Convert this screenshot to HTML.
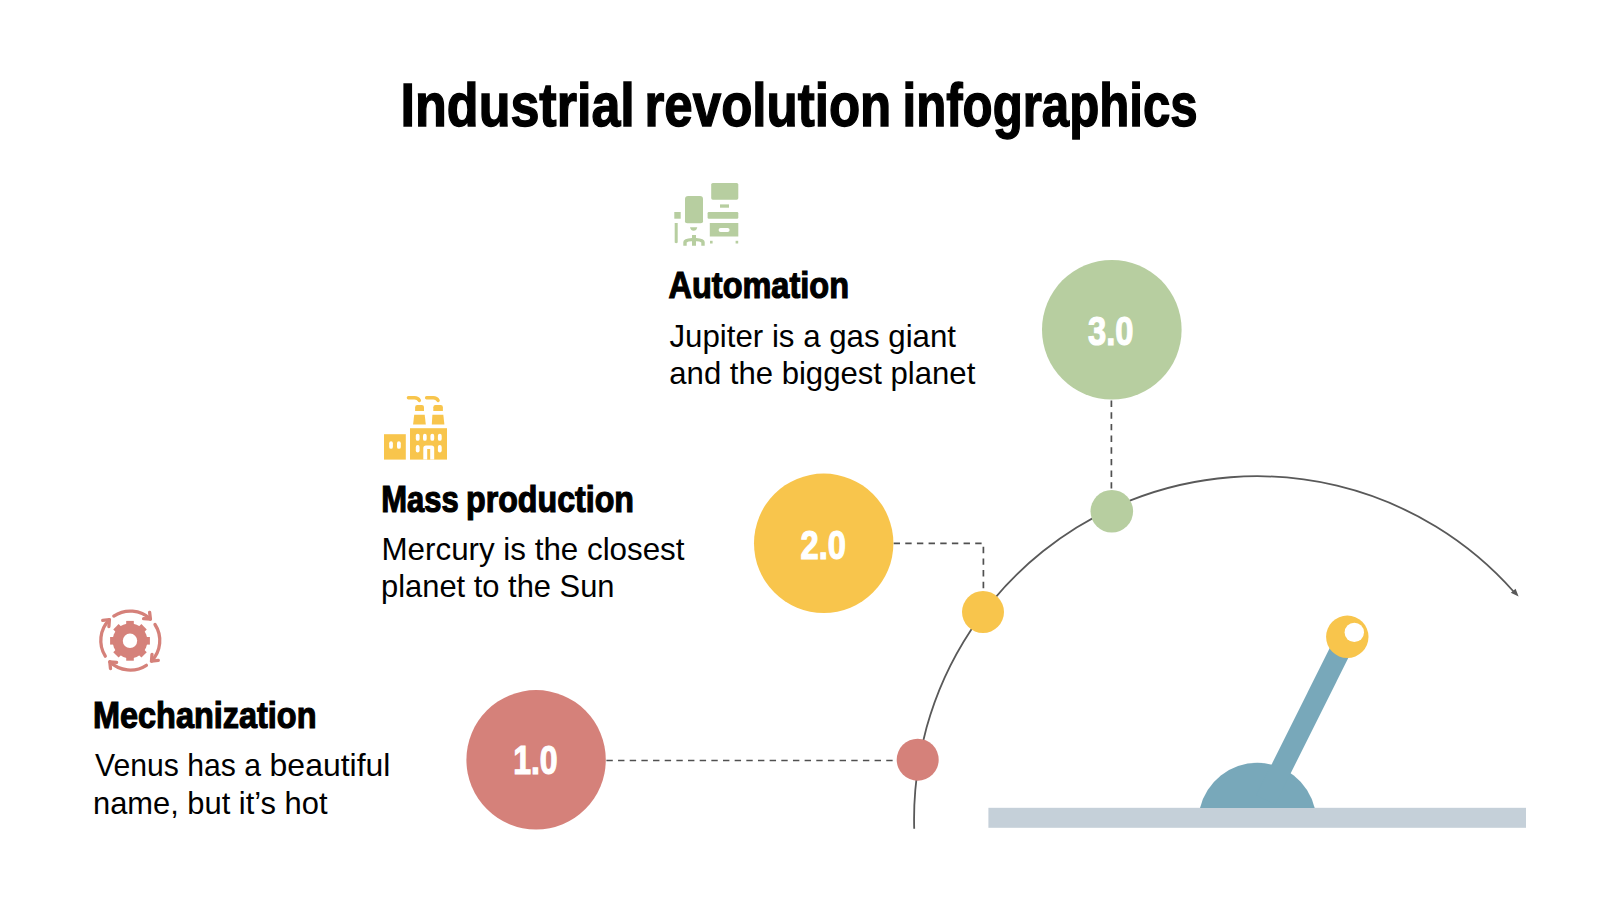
<!DOCTYPE html>
<html><head><meta charset="utf-8">
<style>
html,body{margin:0;padding:0;background:#fff;}
body{width:1600px;height:900px;overflow:hidden;position:relative;}
svg{position:absolute;left:0;top:0;display:block;}
text{font-family:"Liberation Sans",sans-serif;}
.h{font-weight:bold;fill:#000;}
.b{fill:#000;}
.n{font-weight:bold;fill:#fff;}
</style></head><body>
<svg width="1600" height="900" viewBox="0 0 1600 900">
<!-- Title -->
<g class="h" font-size="61" stroke="#000" stroke-width="1.4">
<text x="400.6" y="126.4" textLength="234.2" lengthAdjust="spacingAndGlyphs">Industrial</text>
<text x="644.5" y="126.4" textLength="246.8" lengthAdjust="spacingAndGlyphs">revolution</text>
<text x="902.5" y="126.4" textLength="295.2" lengthAdjust="spacingAndGlyphs">infographics</text>
</g>

<!-- Headings -->
<text class="h" x="668.5" y="298.2" font-size="37.5" textLength="180.5" stroke="#000" stroke-width="1.2" lengthAdjust="spacingAndGlyphs">Automation</text>
<text class="h" x="381.3" y="512" font-size="37.5" textLength="77.5" lengthAdjust="spacingAndGlyphs" stroke="#000" stroke-width="1.2">Mass</text>
<text class="h" x="466" y="512" font-size="37.5" textLength="168" lengthAdjust="spacingAndGlyphs" stroke="#000" stroke-width="1.2">production</text>
<text class="h" x="93" y="727.7" font-size="37.5" textLength="223.5" stroke="#000" stroke-width="1.2" lengthAdjust="spacingAndGlyphs">Mechanization</text>

<!-- Body -->
<g class="b" font-size="30.7">
<text x="669.5" y="346.5" textLength="286.5" lengthAdjust="spacingAndGlyphs">Jupiter is a gas giant</text>
<text x="669.3" y="383.6" textLength="306" lengthAdjust="spacingAndGlyphs">and the biggest planet</text>
<text x="381.5" y="559.8" textLength="303" lengthAdjust="spacingAndGlyphs">Mercury is the closest</text>
<text x="381" y="596.8" textLength="233.5" lengthAdjust="spacingAndGlyphs">planet to the Sun</text>
<text x="95" y="776" textLength="166" lengthAdjust="spacingAndGlyphs">Venus has a</text>
<text x="269.6" y="776" textLength="120.8" lengthAdjust="spacingAndGlyphs">beautiful</text>
<text x="93" y="813.7" textLength="234.5" lengthAdjust="spacingAndGlyphs">name, but it’s hot</text>
</g>

<!-- Big arc -->
<path d="M914.2 828.7 A343 343 0 0 1 1514 592" fill="none" stroke="#595959" stroke-width="1.8"/>
<polygon points="1518.6,596.6 1510.8,592.8 1515.6,588.8" fill="#595959"/>

<!-- Dashed connectors -->
<g stroke="#505050" stroke-width="1.7" stroke-dasharray="6.4 5.26" fill="none">
<path d="M606.4 760.5 H897"/>
<path d="M893.6 543.3 H984"/>
<path d="M983.4 546.8 V592"/>
<path d="M1111.4 400.6 V491"/>
</g>

<!-- Big circles -->
<circle cx="1111.8" cy="329.7" r="69.8" fill="#B7CEA0"/>
<circle cx="823.7" cy="543.3" r="69.7" fill="#F8C54C"/>
<circle cx="536.1" cy="759.8" r="69.7" fill="#D5817A"/>
<text class="n" stroke="#fff" stroke-width="1.2" x="1110.7" y="344.5" font-size="40.5" text-anchor="middle" textLength="45.5" lengthAdjust="spacingAndGlyphs">3.0</text>
<text class="n" stroke="#fff" stroke-width="1.2" x="823.2" y="558.5" font-size="40.5" text-anchor="middle" textLength="45.5" lengthAdjust="spacingAndGlyphs">2.0</text>
<text class="n" stroke="#fff" stroke-width="1.2" x="535.4" y="774.2" font-size="40.5" text-anchor="middle" textLength="44.5" lengthAdjust="spacingAndGlyphs">1.0</text>

<!-- Small circles on arc -->
<circle cx="1111.8" cy="511.3" r="21.3" fill="#B7CEA0"/>
<circle cx="983" cy="612" r="21" fill="#F8C54C"/>
<circle cx="917.7" cy="759.7" r="21" fill="#D5817A"/>

<!-- Lever -->
<rect x="988.4" y="807.8" width="537.6" height="20" fill="#C5D0D9"/>
<path d="M1200 808 A59 59 0 0 1 1314.7 808 Z" fill="#78A8BA"/>
<line x1="1265.6" y1="800" x2="1347" y2="637" stroke="#78A8BA" stroke-width="21"/>
<circle cx="1347.3" cy="636.8" r="21.2" fill="#F8C54C"/>
<circle cx="1354.3" cy="632.4" r="9.7" fill="#fff"/>

<!-- Automation icon (office) -->
<g fill="#B7CEA0">
<rect x="711.2" y="183" width="27.1" height="16.7" rx="1.6"/>
<rect x="720" y="204.4" width="9" height="3.3"/>
<rect x="707.6" y="212" width="30.7" height="6.8" rx="1.2"/>
<path d="M709.8 223 H738.3 V236.4 H709.8 Z M720.6 228 a2 2 0 0 0 0 4 H727.6 a2 2 0 0 0 0 -4 Z" fill-rule="evenodd"/>
<rect x="710" y="240.8" width="2.6" height="2.7"/>
<rect x="735.6" y="240.8" width="2.6" height="2.7"/>
<path d="M688.2 196 H700 Q703 196 703 199 V220 Q703.7 223.2 700.5 223.2 H687.5 Q684.3 223.2 685 220 V199 Q685 196 688.2 196 Z"/>
<rect x="674.3" y="212" width="6.4" height="6.7"/>
<path d="M674.7 223 H677.7 V242.4 Q676.2 244 674.7 242.4 Z"/>
<path d="M690 227.3 H697.3 Q696.5 230.8 693.6 230.8 Q690.8 230.8 690 227.3 Z"/>
<path d="M692 235 H696 V238 Q704.7 238.5 704.7 242 V245.7 H701.3 V242.5 Q700 241.3 696 241.3 V245.7 H692 V241.3 Q688 241.3 686.7 242.5 V245.7 H683.3 V242 Q683.3 238.5 692 238 Z"/>
</g>

<!-- Mass production icon (factory) -->
<g fill="#F8C54C">
<rect x="384" y="434.2" width="21.8" height="25.4"/>
<rect x="410" y="428.2" width="37" height="31.4"/>
<path d="M414.2 414.7 H424.7 L425.8 424.4 H413.1 Z"/>
<path d="M432.4 414.7 H443.3 L444.4 424.4 H431.8 Z"/>
<path d="M417.3 405.1 H421.8 Q424 405.1 424 407.3 V410.9 H415.1 V407.3 Q415.1 405.1 417.3 405.1 Z"/>
<path d="M435.5 405.1 H440.7 Q442.9 405.1 442.9 407.3 V410.9 H433.3 V407.3 Q433.3 405.1 435.5 405.1 Z"/>
</g>
<g fill="#fff">
<rect x="389.2" y="441.3" width="3.7" height="7.5" rx="1.85"/>
<rect x="397" y="441.3" width="3.8" height="7.5" rx="1.9"/>
<rect x="415.8" y="433.8" width="3.8" height="7" rx="1.9"/>
<rect x="423" y="433.8" width="3.7" height="7" rx="1.85"/>
<rect x="430.4" y="433.8" width="3.8" height="7" rx="1.9"/>
<rect x="437.9" y="433.8" width="3.8" height="7" rx="1.9"/>
<rect x="415.8" y="445" width="3.8" height="7.5" rx="1.9"/>
<rect x="437.9" y="445" width="3.8" height="7.5" rx="1.9"/>
<path d="M423.3 459.6 V448 Q423.3 445.4 425.9 445.4 H431.6 Q434.2 445.4 434.2 448 V459.6 Z"/>
</g>
<rect x="427.2" y="449" width="3" height="10.6" fill="#F8C54C"/>
<g fill="none" stroke="#F8C54C" stroke-width="3.4" stroke-linecap="round">
<path d="M408.4 397.8 H414.5 Q418 397.8 419.4 400.6"/>
<path d="M426.6 397.8 H433.2 Q436.7 397.8 438.1 400.6"/>
</g>

<!-- Mechanization icon (gear) -->
<g fill="#D5817A">
<circle cx="130" cy="640.8" r="17.4"/>
<rect x="126.2" y="620.9" width="7.6" height="5" transform="rotate(0 130 640.8)"/><rect x="126.2" y="620.9" width="7.6" height="5" transform="rotate(45 130 640.8)"/><rect x="126.2" y="620.9" width="7.6" height="5" transform="rotate(90 130 640.8)"/><rect x="126.2" y="620.9" width="7.6" height="5" transform="rotate(135 130 640.8)"/><rect x="126.2" y="620.9" width="7.6" height="5" transform="rotate(180 130 640.8)"/><rect x="126.2" y="620.9" width="7.6" height="5" transform="rotate(225 130 640.8)"/><rect x="126.2" y="620.9" width="7.6" height="5" transform="rotate(270 130 640.8)"/><rect x="126.2" y="620.9" width="7.6" height="5" transform="rotate(315 130 640.8)"/>
<circle cx="130" cy="640.8" r="7.2" fill="#fff"/>
</g>
<g fill="none" stroke="#D5817A" stroke-width="3.3" stroke-linecap="round" stroke-linejoin="round">
<path d="M113.8 616.1 A29.5 29.5 0 0 1 150.4 619.0"/>
<path d="M149.6 612.3 L150.4 619.0 L143.6 618.7"/>
<path d="M155.0 624.5 A29.5 29.5 0 0 1 151.5 661.1"/>
<path d="M158.3 660.4 L151.5 661.1 L152.0 654.3"/>
<path d="M146.4 665.3 A29.5 29.5 0 0 1 109.8 661.8"/>
<path d="M110.5 668.6 L109.8 661.8 L116.6 662.3"/>
<path d="M105.3 656.2 A29.5 29.5 0 0 1 109.4 619.7"/>
<path d="M102.7 620.3 L109.4 619.7 L108.9 626.5"/>
</g>

</svg>
</body></html>
